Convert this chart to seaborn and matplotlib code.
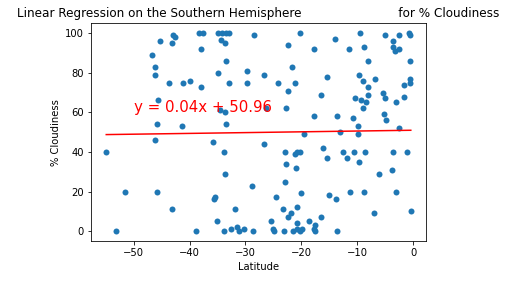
import numpy as np
import pandas as pd
import matplotlib
matplotlib.use("Agg")
import matplotlib.pyplot as plt
import seaborn as sns

latitude = [
    -45.2, -42.9, -42.6, -43.2, -46.7, -46.1, -46.1, -43.6, -41.1, -39.9,
    -38.0, -38.0, -38.3, -37.6, -34.9, -34.2, -33.5, -32.9, -34.3, -33.6,
    -28.4, -20.2, -22.3, -17.7, -33.5, -34.9, -29.8, -26.6, -21.6, -32.9,
    -29.8, -24.1, -21.1, -22.4, -26.4, -22.7, -34.5, -33.6, -33.4, -17.7,
    -45.6, -45.8, -41.4, -14.0, -11.5, -9.5, -8.7, -8.1, -5.1, -2.5,
    -0.7, -0.5, -3.6, -3.6, -3.3, -2.5, -0.6, -15.4, -16.4, -9.6,
    -9.0, -6.8, -8.1, -8.1, -5.4, -5.0, -3.1, -1.7, -0.5, -0.5,
    -10.4, -9.3, -8.4, -9.0, -1.7, -13.6, -10.8, -9.9, -5.2, -4.9,
    -2.5, -13.1,
    -46.2, -54.9, -35.8, -33.9, -33.6, -28.8, -51.6, -45.8, -35.7, -35.4,
    -43.2, -31.8, -35.1, -53.2, -38.9, -33.9, -32.6, -31.5, -31.1, -30.2,
    -28.7, -26.7, -19.5, -9.9, -22.9, -21.2, -20.8, -20.2, -22.7, -20.9,
    -22.9, -16.1, -15.4, -12.6, -11.8, -10.6, -9.6, -8.6, -6.1, -3.7,
    -3.6, -1.1, -3.1, -0.4, -6.9, -8.8, -11.3, -13.8, -15.0, -20.1,
    -24.6, -20.8, -23.2, -22.3, -21.9, -25.4, -20.8, -18.7, -17.5, -16.4,
    -13.6, -25.1, -24.8, -23.1, -21.4, -20.8, -20.2, -19.8, -17.8, -17.6,
]
cloudiness = [
    96, 99, 98, 95, 89, 83, 79, 75, 75, 76,
    73, 92, 100, 100, 100, 100, 100, 100, 96.5, 95,
    99, 100, 94, 92, 86, 80, 81, 79, 83, 75,
    75, 75, 75, 71, 62, 62, 61, 60, 54, 58,
    66, 54, 53, 97, 92, 100, 93, 86, 99, 99,
    100, 99, 96, 93, 91, 92, 86, 78, 69, 79,
    76, 77, 73, 69, 70, 67, 65, 74, 77, 75,
    67, 66, 65, 62, 68, 58, 57, 53, 59, 56,
    52, 50,
    46, 40, 45, 40, 29, 23, 20, 20, 16, 17,
    11, 11, 5, 0, 0, 0, 1, 2, 0, 1,
    0, 44, 49, 49, 40, 39, 40, 40, 34, 32,
    25, 42, 37, 40, 37, 40, 35, 40, 29, 31,
    40, 40, 20, 10, 9, 20, 20, 16, 18, 19,
    17, 12, 11, 7, 9, 5, 4, 5, 3, 7,
    0, 1, 0, 0, 0, 1, 0, 1, 1, 0,
]

slope = 0.04
intercept = 50.96
line_label = f"y = {slope}x + {intercept}"
title_left = "Linear Regression on the Southern Hemisphere"
title_right = "for % Cloudiness"

df = pd.DataFrame({"Latitude": latitude, "Cloudiness": cloudiness})

plt.rcParams["font.family"] = ["DejaVu Sans"]
fig = plt.figure(figsize=(521 / 72, 290 / 72), dpi=72)
ax = fig.add_axes([0.1747, 0.169, 0.643, 0.7507])

sns.scatterplot(data=df, x="Latitude", y="Cloudiness", ax=ax,
                color="#1f77b4", s=36, linewidth=0, alpha=1)

xs = np.array([min(latitude), max(latitude)])
ax.plot(xs, slope * xs + intercept, color="red", linewidth=1.5)
ax.annotate(line_label, (-50, 60), fontsize=15, color="red")

ax.set_xlabel("Latitude", fontsize=10)
ax.set_ylabel("% Cloudiness", fontsize=10)
ax.set_title(title_left + " " * 25 + title_right, fontsize=12)
ax.set_xticks([-50, -40, -30, -20, -10, 0])
ax.set_yticks([0, 20, 40, 60, 80, 100])
ax.tick_params(labelsize=10)

fig.savefig("out.png", dpi=72)
